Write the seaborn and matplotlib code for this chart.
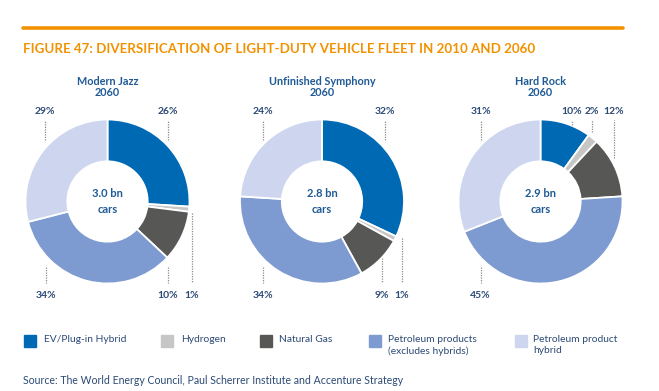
import matplotlib
matplotlib.use("Agg")
import matplotlib.pyplot as plt
import seaborn as sns
from matplotlib.patches import Rectangle
from matplotlib.lines import Line2D

# ---------------- data ----------------
categories = ["EV/Plug-in Hybrid", "Hydrogen", "Natural Gas",
              "Petroleum products\n(excludes hybrids)", "Petroleum product\nhybrid"]
scenarios = ["Modern Jazz", "Unfinished Symphony", "Hard Rock"]
year = "2060"
modern_jazz = [26, 1, 10, 34, 29]
unfinished_symphony = [32, 1, 9, 34, 24]
hard_rock = [10, 2, 12, 45, 31]
fleet_bn = ["3.0", "2.8", "2.9"]

title = "FIGURE 47: DIVERSIFICATION OF LIGHT-DUTY VEHICLE FLEET IN 2010 AND 2060"
source = "Source: The World Energy Council, Paul Scherrer Institute and Accenture Strategy"

# ---------------- style ----------------
sns.set_theme(style="white")
plt.rcParams['font.family'] = ['Lato', 'DejaVu Sans']
palette = sns.color_palette(["#0069B4", "#C6C6C6", "#575756", "#7D9BD0", "#CDD6EE"])
ORANGE = "#F39200"
DARKBLUE = "#1F5A96"
LABEL = "#2C4A75"

W, H = 659, 391
fig = plt.figure(figsize=(W / 100, H / 100), dpi=100)
fig.patch.set_facecolor("white")


def fx(x):
    return x / W


def fy(y):
    return 1 - y / H


# header
fig.add_artist(Line2D([fx(23), fx(623)], [fy(28), fy(28)], color=ORANGE, lw=2.6,
                      transform=fig.transFigure))
fig.text(fx(23), fy(49), title, color=ORANGE, fontsize=9.6, fontweight="bold",
         ha="left", va="center")

series = [modern_jazz, unfinished_symphony, hard_rock]
centers = [(107.5, 201.5), (322, 201.5), (540.5, 201.5)]
R = 82.0

# label layout per chart: (x offset px, side, line start px from centre, line end px)
label_layout = [
    [(60.5, "top", 61.5, 81.5), (84.5, "bot", -11.5, -81.5), (60.5, "bot", -65.5, -81.5),
     (-61.5, "bot", -65.5, -81.5), (-62.5, "top", 61.5, 81.5)],
    [(63.0, "top", 61.5, 81.5), (79.7, "bot", -36.5, -81.5), (60.3, "bot", -56.5, -81.5),
     (-59.3, "bot", -65.5, -81.5), (-59.3, "top", 61.5, 81.5)],
    [(31.2, "top", 76.5, 81.5), (51.2, "top", 70.0, 81.5), (73.5, "top", 43.5, 81.5),
     (-59.8, "bot", -65.5, -81.5), (-59.8, "top", 61.5, 81.5)],
]

for i, (name, vals, (cx, cy)) in enumerate(zip(scenarios, series, centers)):
    ax = fig.add_axes([fx(cx - R), fy(cy + R), 2 * R / W, 2 * R / H])
    ax.pie(vals, colors=palette, startangle=90, counterclock=False, radius=1.0,
           wedgeprops=dict(width=0.51, edgecolor="white", linewidth=1.3))
    ax.set_xlim(-1, 1)
    ax.set_ylim(-1, 1)
    ax.set_aspect("equal")
    ax.axis("off")
    ax.text(0, 0, f"{fleet_bn[i]} bn\ncars", ha="center", va="center",
            color=DARKBLUE, fontsize=8.0, fontweight="bold", linespacing=1.45)
    fig.text(fx(cx), fy(87), f"{name}\n{year}", ha="center", va="center",
             color=DARKBLUE, fontsize=7.8, fontweight="bold", linespacing=1.1)
    for v, (dx, side, l0, l1) in zip(vals, label_layout[i]):
        lx = dx / R
        ly = (89.5 if side == "top" else -93.5) / R
        ax.text(lx, ly, f"{v}%", ha="center", va="center", color=LABEL,
                fontsize=7.5, fontweight="bold", clip_on=False)
        ax.plot([lx, lx], [l0 / R, l1 / R], color="#8C8C8C", lw=0.9,
                linestyle=(0, (1, 1)), clip_on=False)

# legend
sq_x = [24, 161, 260, 369, 515]
tx_x = [44, 181, 279, 388, 533]
for c, lab, sx, tx in zip(palette, categories, sq_x, tx_x):
    fig.add_artist(Rectangle((fx(sx), fy(347)), 12 / W, 12 / H, color=c,
                             transform=fig.transFigure))
    fig.text(fx(tx), fy(335), lab, ha="left", va="top", color=LABEL,
             fontsize=7.4, linespacing=1.35)

fig.text(fx(23), fy(380), source, ha="left", va="center", color=LABEL, fontsize=7.6)

fig.savefig("out.png", dpi=100, facecolor="white")
